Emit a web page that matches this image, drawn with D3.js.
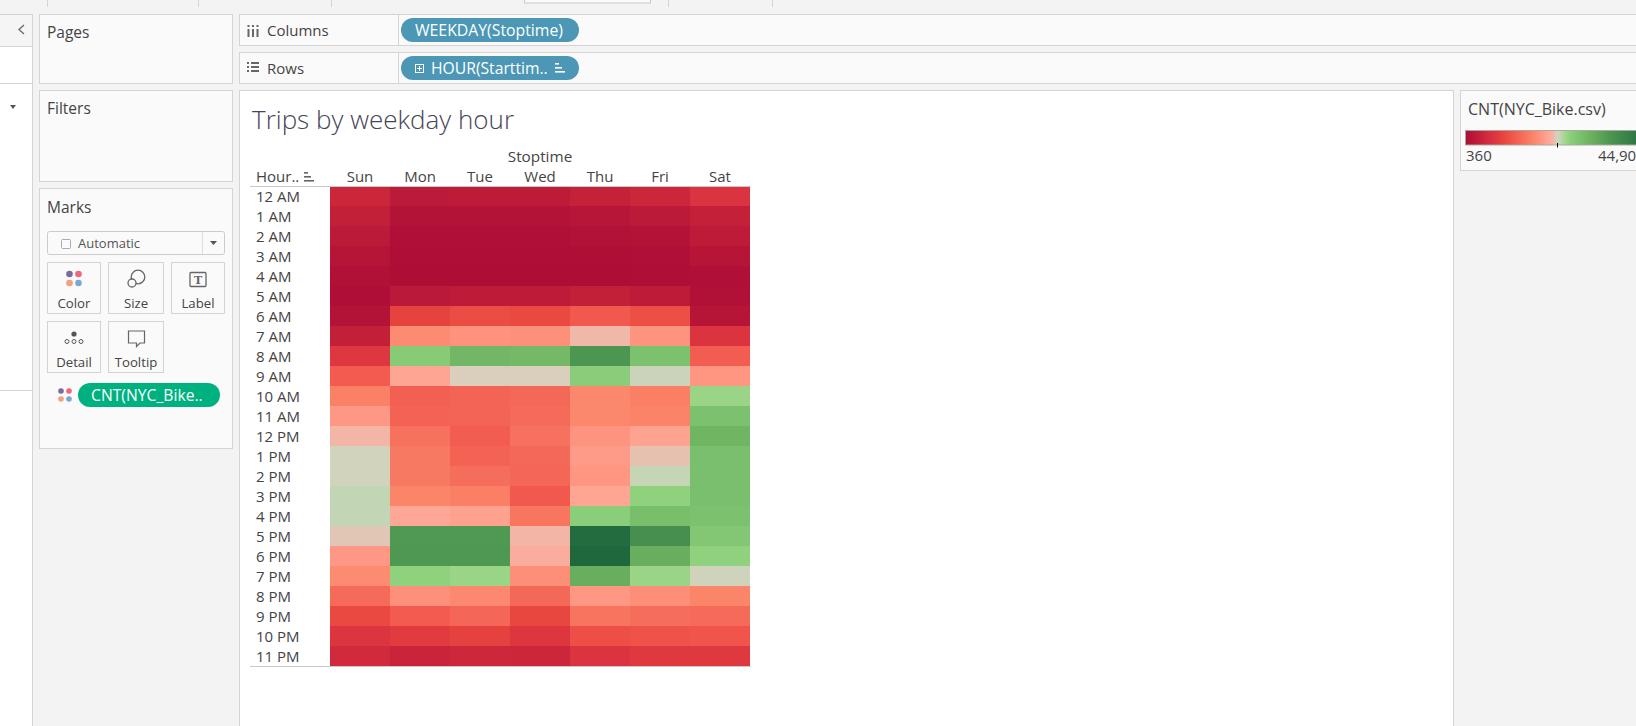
<!DOCTYPE html>
<html>
<head>
<meta charset="utf-8">
<script src="https://cdn.jsdelivr.net/npm/d3@7"></script>
<style>
html, body { margin: 0; padding: 0; overflow: hidden; background: #f3f3f3; }
svg { display: block; }
text { font-family: "Open Sans", sans-serif; fill: #444; }
</style>
</head>
<body>
<div id="chart"></div>
<script>
const hours = ['12 AM','1 AM','2 AM','3 AM','4 AM','5 AM','6 AM','7 AM','8 AM','9 AM','10 AM','11 AM',
	'12 PM','1 PM','2 PM','3 PM','4 PM','5 PM','6 PM','7 PM','8 PM','9 PM','10 PM','11 PM'];
const weekdays = ['Sun','Mon','Tue','Wed','Thu','Fri','Sat'];

// trip counts per hour
const sun = [4814,3478,2587,1696,894,583,1251,3478,7709,12386,16394,19067,21517,22763,22763,23298,23298,22185,19067,17508,13945,9936,7264,5482];
const mon = [2587,1251,805,583,360,2364,9268,17508,26416,20403,12831,13054,14836,15504,15504,16840,20626,34879,35101,25525,18176,12386,8155,4591];
const tue = [2810,1251,805,583,380,2810,10382,18399,29756,22496,13277,13277,12608,13054,14390,16172,19958,34879,35101,24857,17285,13499,9045,5037];
const wed = [2810,1251,805,583,400,2810,9936,18176,29534,22496,13722,13945,14836,13722,13499,12163,15281,21517,21071,17953,13722,9713,7486,4814];
const thu = [3923,1919,1028,583,420,3478,12163,21650,35547,26193,17063,17063,18621,19290,18844,20403,25971,44009,44900,31315,19067,15058,10827,7041];
const fri = [4814,2587,1251,805,494,2810,10827,18621,28198,22986,16172,16617,20180,21962,23209,25525,28643,36900,31315,24857,17953,14390,11272,7932];
const sat = [7041,3701,2810,1696,805,894,1696,7041,12608,18844,24857,28198,30202,28420,28420,28420,28198,27084,25525,22853,16840,13945,11495,7932];
const series = [sun, mon, tue, wed, thu, fri, sat];

const minCount = 360;
const maxCount = 44900;
const colorPositions = [0,.05,.09,.14,.17,.21,.26,.31,.37,.41,.46,.475,.5,.515,.545,.57,.62,.68,.78,1];
const colorValues = ['#ad0e36','#bc1a39','#c82339','#d83140','#e0383f','#e8473f','#f2574d','#f56c5a','#fb8569','#fe9480','#ffa999','#f3b5a5',
	'#d5d2bf','#c2d5b5','#9dd78a','#8dcf7b','#7cc26f','#6cb260','#4f9852','#1f683d'];

const width = 1636;
const height = 726;
const svg = d3.select('#chart').append('svg')
	.attr('width', width)
	.attr('height', height);

const color = d3.scaleLinear()
	.domain(colorPositions.map(p => minCount + p * (maxCount - minCount)))
	.range(colorValues);

function panel(x, y, w, h, fill) {
	svg.append('rect')
		.attr('x', x + .5).attr('y', y + .5)
		.attr('width', w).attr('height', h)
		.attr('fill', fill || '#fafafa')
		.attr('stroke', '#d4d4d4');
}
function label(txt, x, y, size, col, anchor) {
	return svg.append('text')
		.attr('x', x).attr('y', y)
		.attr('font-size', size + 'px')
		.attr('text-anchor', anchor || 'start')
		.style('fill', col || '#444')
		.text(txt);
}
function line(x1, y1, x2, y2, col, w) {
	svg.append('line')
		.attr('x1', x1).attr('y1', y1).attr('x2', x2).attr('y2', y2)
		.attr('stroke', col || '#d4d4d4')
		.attr('stroke-width', w || 1);
}
function sortIcon(x, y, col) {
	[[0, 4], [4, 7], [8, 10]].forEach(b => {
		svg.append('rect').attr('x', x).attr('y', y + b[0])
			.attr('width', b[1]).attr('height', 1.6).attr('fill', col);
	});
}
function dots(x, y, r, gap) {
	[['#7b6b9a', 0, 0], ['#f0667c', 1, 0], ['#f3a176', 0, 1], ['#7fa6d2', 1, 1]].forEach(d => {
		svg.append('circle').attr('cx', x + d[1] * gap).attr('cy', y + d[2] * gap)
			.attr('r', r).attr('fill', d[0]);
	});
}

// top tab strip
[47.5, 198.5, 331.5, 668.5, 772.5].forEach(x => line(x, 0, x, 7));
svg.append('rect').attr('x', 524.5).attr('y', -5).attr('width', 126).attr('height', 8)
	.attr('fill', '#fafafa').attr('stroke', '#c8c8c8');

// left data pane stub
svg.append('rect').attr('x', -1).attr('y', 14.5).attr('width', 33.5).attr('height', 720)
	.attr('fill', '#fff').attr('stroke', '#d4d4d4');
svg.append('rect').attr('x', 0).attr('y', 15).attr('width', 32).attr('height', 31).attr('fill', '#f5f5f5');
line(0, 46.5, 32, 46.5);
line(0, 83.5, 32, 83.5);
line(0, 390.5, 32, 390.5);
svg.append('path').attr('d', 'M24 25 L19 29.5 L24 34').attr('fill', 'none').attr('stroke', '#666').attr('stroke-width', 1.3);
svg.append('path').attr('d', 'M10 105 L16 105 L13 109 Z').attr('fill', '#555');

// shelves and cards
panel(39, 14, 193, 69);
label('Pages', 47, 38, 15.5);
panel(39, 90, 193, 91);
label('Filters', 47, 114, 15.5);
panel(39, 188, 193, 260);
label('Marks', 47, 213, 15.5);

panel(239, 14, 1420, 31);
panel(239, 52, 1420, 31);
line(398.5, 15, 398.5, 45);
line(398.5, 53, 398.5, 83);
label('Columns', 267, 36, 15);
label('Rows', 267, 74, 15);
[248.5, 253, 257.5].forEach(x => {
	svg.append('rect').attr('x', x - 1).attr('y', 29).attr('width', 2).attr('height', 8).attr('fill', '#666');
	svg.append('rect').attr('x', x - 1).attr('y', 25).attr('width', 2).attr('height', 2).attr('fill', '#666');
});
[63, 67, 71].forEach(y => {
	svg.append('rect').attr('x', 247).attr('y', y - 1).attr('width', 2).attr('height', 2).attr('fill', '#666');
	svg.append('rect').attr('x', 251).attr('y', y - 1).attr('width', 8).attr('height', 2).attr('fill', '#666');
});

// pills
svg.append('rect').attr('x', 401).attr('y', 18).attr('width', 178).attr('height', 24).attr('rx', 12).attr('fill', '#4b97b5');
label('WEEKDAY(Stoptime)', 415, 36, 15.8, '#fff');
svg.append('rect').attr('x', 401).attr('y', 56).attr('width', 178).attr('height', 24).attr('rx', 12).attr('fill', '#4b97b5');
svg.append('rect').attr('x', 415.5).attr('y', 64.5).attr('width', 8).attr('height', 8).attr('fill', 'none').attr('stroke', '#fff');
line(417, 68.5, 422, 68.5, '#fff');
line(419.5, 66, 419.5, 71, '#fff');
label('HOUR(Starttim..', 431, 74, 15.7, '#fff');
sortIcon(555, 63, '#fff');

// marks card
svg.append('rect').attr('x', 47.5).attr('y', 231.5).attr('width', 177).attr('height', 23).attr('rx', 2)
	.attr('fill', '#fafafa').attr('stroke', '#ccc');
line(202.5, 232, 202.5, 254, '#ddd');
svg.append('rect').attr('x', 61.5).attr('y', 239.5).attr('width', 9).attr('height', 9).attr('rx', 1)
	.attr('fill', 'none').attr('stroke', '#aaa');
label('Automatic', 78, 248, 13, '#555');
svg.append('path').attr('d', 'M210 241 L217 241 L213.5 245 Z').attr('fill', '#555');

const markButtons = [['Color', 47.5, 262.5, 53], ['Size', 108.5, 262.5, 55], ['Label', 171.5, 262.5, 53],
	['Detail', 47.5, 321.5, 53], ['Tooltip', 108.5, 321.5, 55]];
markButtons.forEach(b => {
	svg.append('rect').attr('x', b[1]).attr('y', b[2]).attr('width', b[3]).attr('height', 51)
		.attr('fill', '#fafafa').attr('stroke', '#d4d4d4');
	label(b[0], b[1] + b[3] / 2, b[2] + 45, 13.2, '#444', 'middle');
});
dots(69.5, 274, 3.3, 9);
svg.append('circle').attr('cx', 138).attr('cy', 277).attr('r', 6.8).attr('fill', 'none').attr('stroke', '#666').attr('stroke-width', 1.3);
svg.append('circle').attr('cx', 132).attr('cy', 283).attr('r', 4).attr('fill', '#fafafa').attr('stroke', '#666').attr('stroke-width', 1.3);
svg.append('rect').attr('x', 190).attr('y', 272.5).attr('width', 16).attr('height', 14).attr('rx', 1).attr('fill', 'none').attr('stroke', '#666').attr('stroke-width', 1.3);
svg.append('text').attr('x', 198).attr('y', 284).attr('text-anchor', 'middle').attr('font-size', '11px')
	.style('font-family', '"DejaVu Serif", serif').style('font-weight', 'bold').style('fill', '#666').text('T');
svg.append('circle').attr('cx', 74).attr('cy', 334).attr('r', 2.6).attr('fill', '#555');
[67, 74, 81].forEach(x => {
	svg.append('circle').attr('cx', x).attr('cy', 341.5).attr('r', 2).attr('fill', 'none').attr('stroke', '#555');
});
svg.append('path').attr('d', 'M128.5 331 H144.5 V343 H140 L136.5 346.5 V343 H128.5 Z').attr('fill', 'none').attr('stroke', '#666').attr('stroke-width', 1.2);
dots(61, 391, 2.8, 8);
svg.append('rect').attr('x', 78).attr('y', 383).attr('width', 142).attr('height', 24).attr('rx', 12).attr('fill', '#00b180');
label('CNT(NYC_Bike..', 91, 401, 15.7, '#fff');

// view
panel(239, 90, 1214, 650, '#fff');
label('Trips by weekday hour', 252, 129, 26, '#454555').style('font-weight', 300);

const x = d3.scaleBand().domain(weekdays).range([330, 750]);
const y = d3.scaleBand().domain(hours).range([186, 666]);

const cells = weekdays.flatMap((w, i) => hours.map((h, j) => ({ day: w, hour: h, count: series[i][j] })));
svg.selectAll('rect.cell')
	.data(cells)
	.enter()
	.append('rect')
	.attr('class', 'cell')
	.attr('x', d => x(d.day))
	.attr('y', d => y(d.hour))
	.attr('width', x.bandwidth())
	.attr('height', y.bandwidth())
	.attr('fill', d => color(d.count));

const xAxis = svg.append('g').attr('transform', 'translate(0,186)')
	.call(d3.axisTop(x).tickSize(0).tickPadding(4));
xAxis.select('.domain').remove();
xAxis.selectAll('text').attr('font-size', '15px').style('font-family', '"Open Sans", sans-serif').style('fill', '#444');

const yAxis = svg.append('g').attr('transform', 'translate(256,1.5)')
	.call(d3.axisRight(y).tickSize(0).tickPadding(0));
yAxis.select('.domain').remove();
yAxis.selectAll('text').attr('font-size', '15px').style('font-family', '"Open Sans", sans-serif').style('fill', '#444');

label('Stoptime', 540, 162, 15.3, '#444', 'middle');
label('Hour..', 256, 182, 15);
sortIcon(304, 172, '#666');
line(250, 186.5, 751, 186.5, '#c8c8c8');
line(250, 666.5, 751, 666.5, '#c8c8c8');

// colour legend, its right end runs off the window
panel(1460, 90, 190, 80);
label('CNT(NYC_Bike.csv)', 1468, 115, 16);
const grad = svg.append('defs').append('linearGradient').attr('id', 'ramp');
colorPositions.forEach((p, i) => {
	grad.append('stop').attr('offset', p).attr('stop-color', colorValues[i]);
});
svg.append('rect').attr('x', 1465.5).attr('y', 130.5).attr('width', 183.5).attr('height', 14.5)
	.attr('fill', 'url(#ramp)').attr('stroke', '#a8a89f');
line(1557.5, 143, 1557.5, 147.5, '#000');
label('360', 1466, 161, 15);
label('44,900', 1598, 161, 15);
</script>
</body>
</html>
